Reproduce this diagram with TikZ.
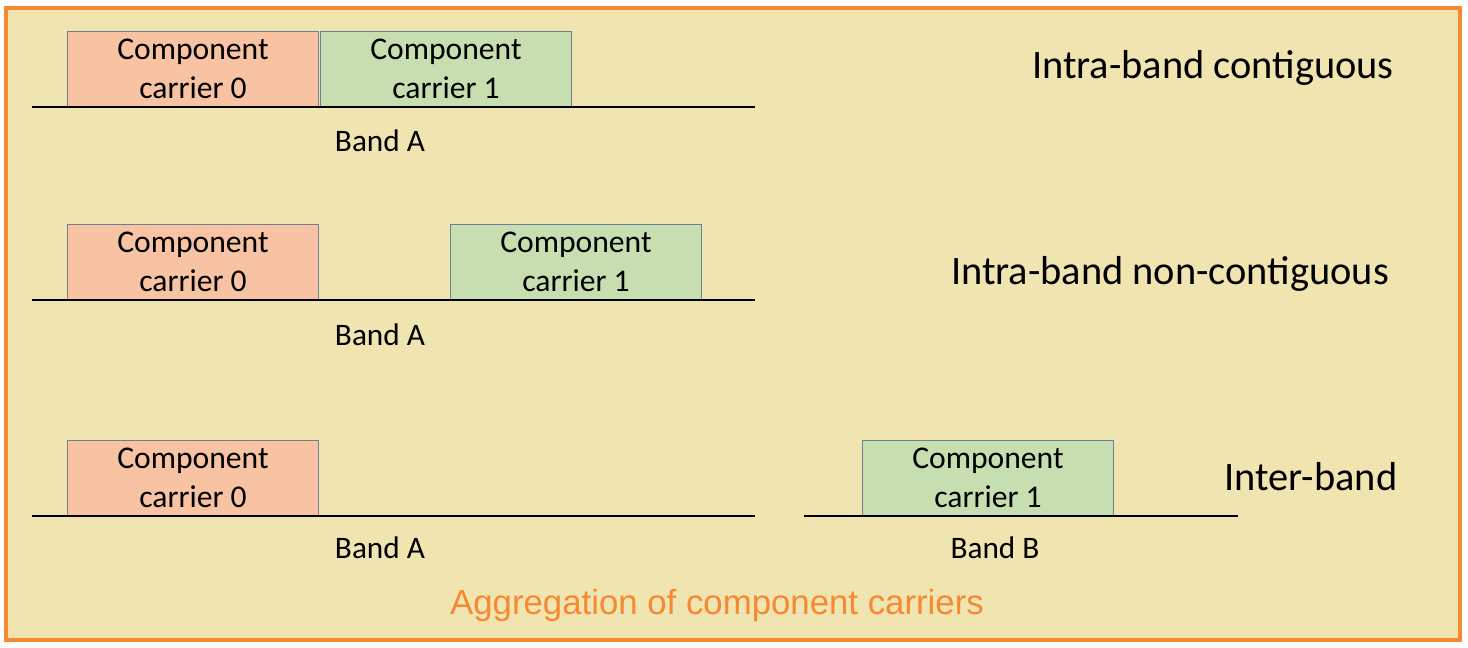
\documentclass[tikz,border=0pt]{standalone}
\usepackage{fontspec}
\setmainfont{Carlito}
\newfontfamily\capfont{Liberation Sans}
\definecolor{bg}{HTML}{F0E4B0}
\definecolor{frame}{HTML}{F58A33}
\definecolor{cczero}{HTML}{F7C3A2}
\definecolor{ccone}{HTML}{C7DFB0}
\definecolor{edge}{HTML}{6F7E96}

\begin{document}
\begin{tikzpicture}[
            x = 0.02cm, y = -0.02cm, % pixel grid
            carrier/.style = {draw = edge, semithick, minimum width = 5.02cm,
                minimum height = 1.5cm, anchor = south west, inner sep = 0pt,
                align = center, font = \fontsize{18}{22}\selectfont},
            band/.style = {draw = black, line width = 1.2pt},
            bandname/.style = {font = \fontsize{17.8}{20}\selectfont},
            kind/.style = {font = \fontsize{23}{26}\selectfont}
        ]

        \useasboundingbox (0,0) rectangle (1468,648);
        \fill[white] (0,0) rectangle (1468,648);
        \draw[fill = bg, draw = frame, line width = 2.5pt] (6,8) rectangle (1460,640);

        % intra-band contiguous
        \node[carrier, fill = cczero] (a0) at (67,107) {Component\\carrier 0};
        \node[carrier, fill = ccone] (a1) at (320,107) {Component\\carrier 1};
        \coordinate (al) at (32,107);
        \coordinate (ar) at (755,107);
        \draw[band] (al) -- (ar);
        \node[bandname] (an) at (380,141) {Band A};
        \node[kind] (ak) at (1213,68) {Intra-band contiguous};

        % intra-band non-contiguous
        \node[carrier, fill = cczero] (b0) at (67,300) {Component\\carrier 0};
        \node[carrier, fill = ccone] (b1) at (450,300) {Component\\carrier 1};
        \coordinate (bl) at (32,300);
        \coordinate (br) at (755,300);
        \draw[band] (bl) -- (br);
        \node[bandname] (bn) at (380,335) {Band A};
        \node[kind] (bk) at (1170,274) {Intra-band non-contiguous};

        % inter-band
        \node[carrier, fill = cczero] (c0) at (67,516) {Component\\carrier 0};
        \node[carrier, fill = ccone] (c1) at (862,516) {Component\\carrier 1};
        \coordinate (cl) at (32,516);
        \coordinate (cr) at (755,516);
        \coordinate (dl) at (804,516);
        \coordinate (dr) at (1238,516);
        \draw[band] (cl) -- (cr);
        \draw[band] (dl) -- (dr);
        \node[bandname] (cn) at (380,548) {Band A};
        \node[bandname] (dn) at (995,548) {Band B};
        \node[kind] (ck) at (1311,477) {Inter-band};

        \node[text = frame, font = \capfont\fontsize{19.8}{22}\selectfont] (cap) at (717,606) {Aggregation of component carriers};

\end{tikzpicture}
\end{document}
